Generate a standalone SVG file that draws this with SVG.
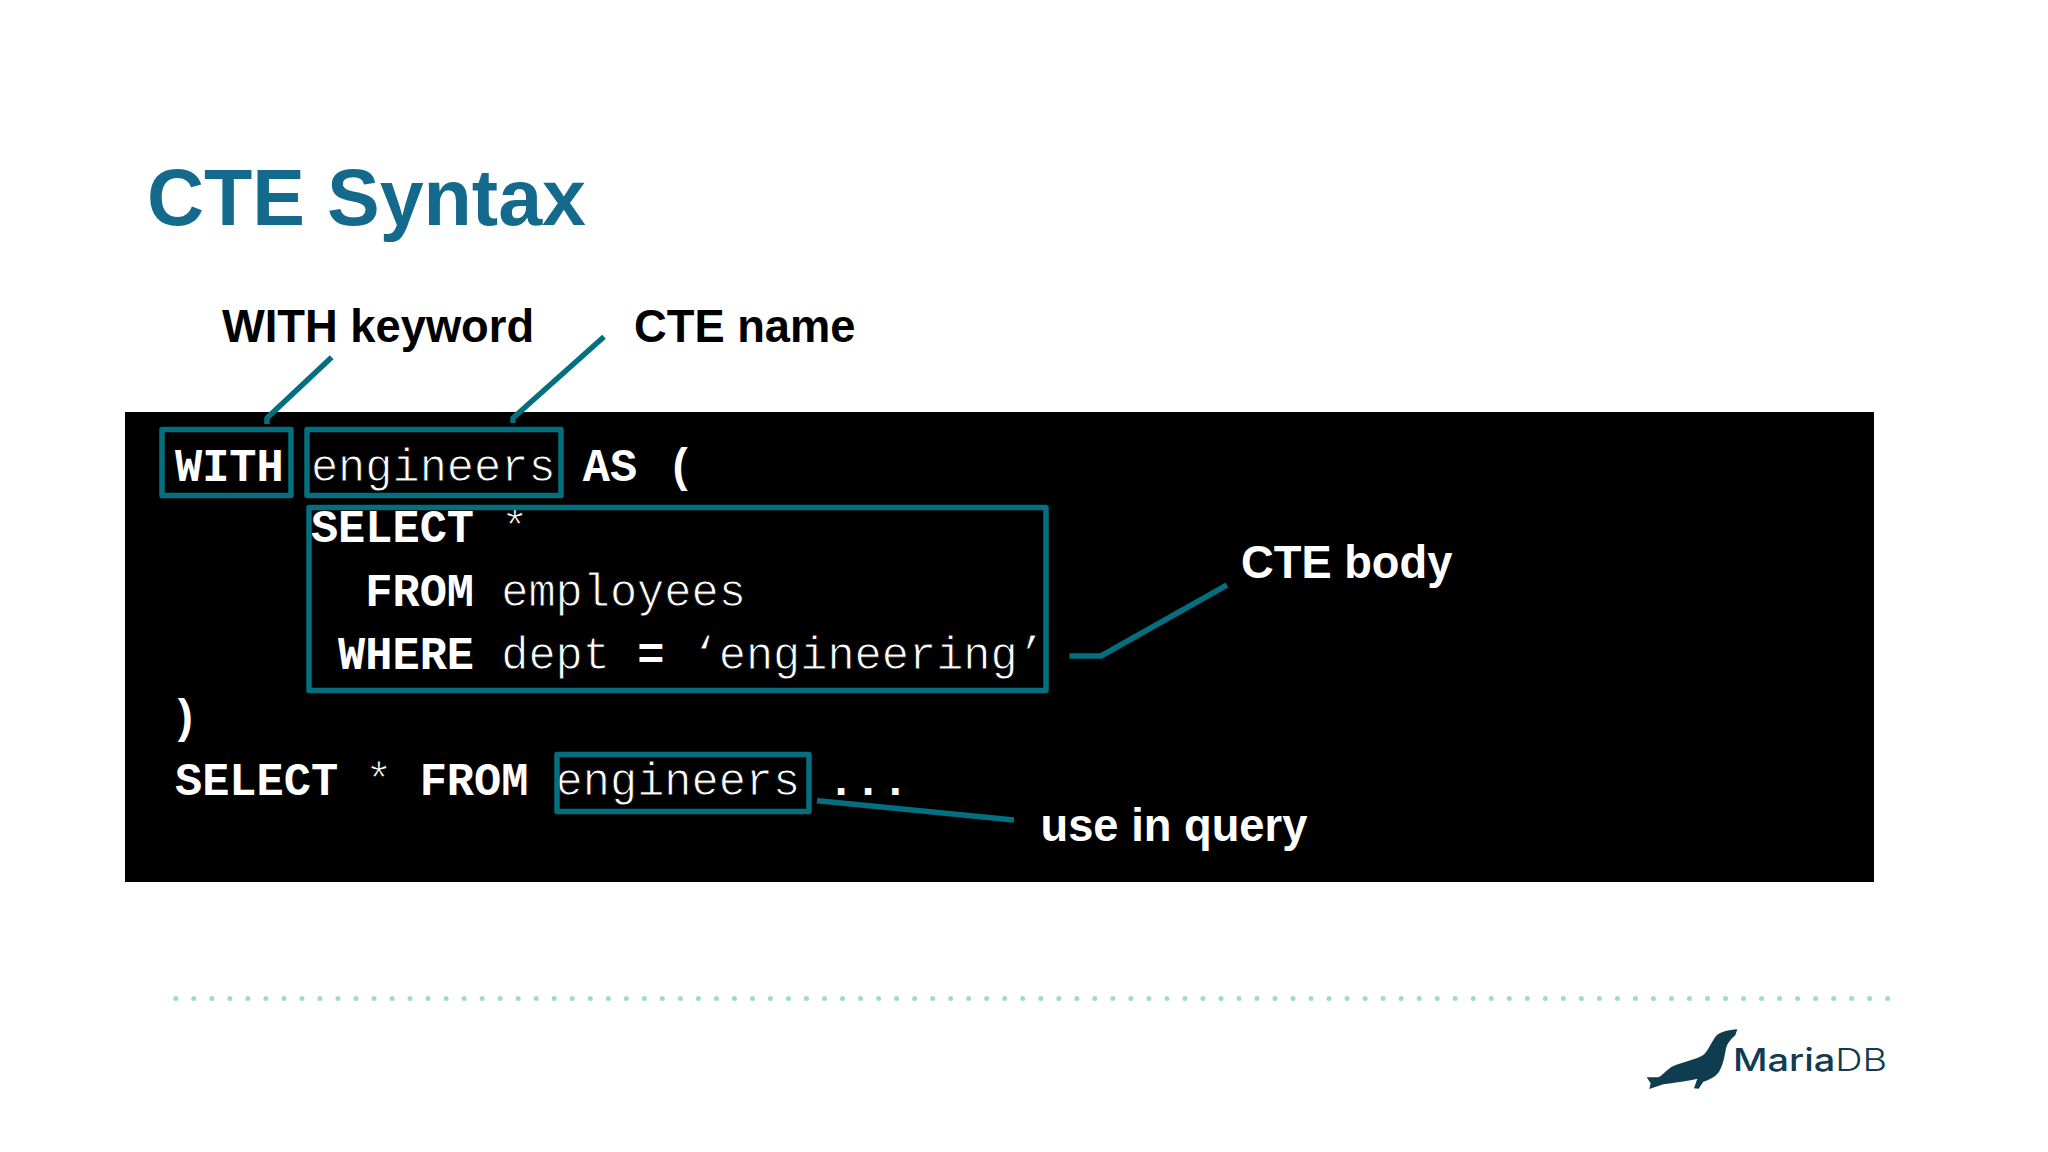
<svg xmlns="http://www.w3.org/2000/svg" width="2048" height="1152" viewBox="0 0 2048 1152">
<style>
.code{font-family:"Liberation Mono",monospace;font-size:45.3px;fill:#fff;white-space:pre;stroke:#000;stroke-width:.9px}
.b{font-weight:700;stroke:none}
.lab{font-family:"Liberation Sans",Arial,sans-serif;font-weight:700;font-size:45.3px}
.box{fill:none;stroke:#046f7f;stroke-width:5.5;stroke-linejoin:round}
.con{fill:none;stroke:#046f7f;stroke-width:5.5;stroke-linejoin:round}
</style>
<rect width="2048" height="1152" fill="#fff"/>
<text id="title" x="147" y="224.5" font-family="Liberation Sans, Arial, sans-serif" font-weight="700" font-size="79" fill="#136a8c">CTE Syntax</text>
<rect x="125" y="412" width="1749" height="470" fill="#000"/>
<g id="code">
<text class="code" x="175" y="481" xml:space="preserve"><tspan class="b">WITH</tspan> engineers <tspan class="b">AS</tspan> <tspan class="b" dx="3">(</tspan></text>
<text class="code" x="175" y="542" xml:space="preserve">     <tspan class="b">SELECT</tspan> *</text>
<text class="code" x="175" y="606" xml:space="preserve">       <tspan class="b">FROM</tspan> employees</text>
<text class="code" x="175" y="669" xml:space="preserve">      <tspan class="b">WHERE</tspan> dept <tspan class="b">=</tspan> ‘engineering’</text>
<text class="code b" x="171" y="732" xml:space="preserve">)</text>
<text class="code" x="175" y="795" xml:space="preserve"><tspan class="b">SELECT</tspan> * <tspan class="b">FROM</tspan> engineers <tspan class="b">...</tspan></text>
</g>
<g id="box-with"><rect class="box" x="162" y="429.5" width="129" height="66"/></g>
<g id="box-name"><rect class="box" x="307" y="429.5" width="254" height="66"/></g>
<g id="box-body"><rect class="box" x="309" y="507.5" width="737" height="183"/></g>
<g id="box-use"><rect class="box" x="557" y="754.5" width="252" height="57"/></g>
<g id="connectors">
<path class="con" d="M331.7 357.3L267 418V424"/>
<path class="con" d="M604 336.7L513 418V423"/>
<path class="con" d="M1069.5 656H1101L1227 585"/>
<path class="con" d="M817 800.7L831 802L1014 820"/>
</g>
<g id="label-with"><text class="lab" x="222" y="342" fill="#000">WITH keyword</text></g>
<g id="label-name"><text class="lab" x="634" y="342" fill="#000">CTE name</text></g>
<g id="label-body"><text class="lab" x="1241" y="578" fill="#fff">CTE body</text></g>
<g id="label-use"><text class="lab" x="1040.5" y="841" fill="#fff">use in query</text></g>
<path id="dots" d="M175.8 998.5H1890" fill="none" stroke="#9fdacd" stroke-width="5" stroke-linecap="round" stroke-dasharray="0 18.02"/>
<g id="logo">
<path transform="translate(1620 980) scale(.3333)" fill="#0f3d4f" d="M352 148L346 166C334 176 322 190 318 205C314 228 310 252 300 270C292 288 268 300 250 305L236 326L222 325L232 296C200 304 160 308 130 313L88 327L92 310L80 292L115 292C128 286 140 268 160 258C190 246 225 240 250 225C265 212 272 190 288 168C300 156 325 150 352 148Z"/>
<text x="1733" y="1071" font-family="Inter, sans-serif" font-size="31" fill="#0f3d4f" textLength="154" lengthAdjust="spacingAndGlyphs"><tspan font-weight="500">Maria</tspan><tspan font-weight="300">DB</tspan></text>
</g>
</svg>
